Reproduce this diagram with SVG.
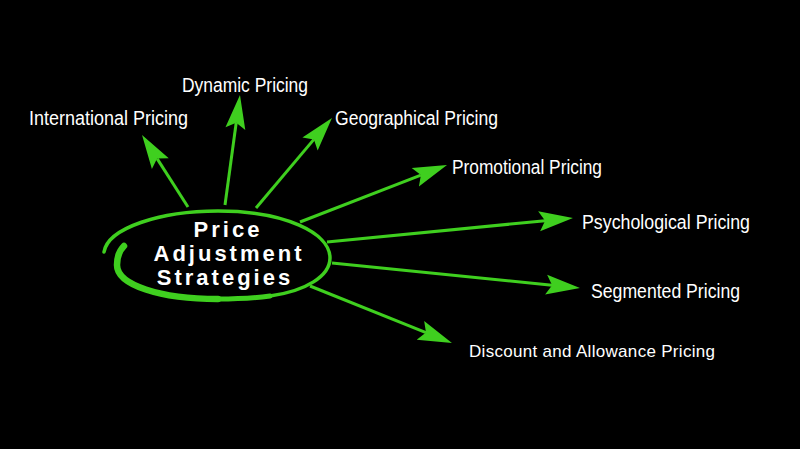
<svg xmlns="http://www.w3.org/2000/svg" width="800" height="449" viewBox="0 0 800 449">
<style>
.lbl{font-family:"Liberation Sans",Arial,sans-serif;font-size:20px;fill:#fff}
.ctr{font-family:"Liberation Sans",Arial,sans-serif;font-size:22px;font-weight:bold;fill:#fff;letter-spacing:3px;text-anchor:middle}
.arr{stroke:#3fcf1f;stroke-width:3;fill:none;marker-end:url(#ah)}
.sw{stroke:#3fcf1f;fill:none;stroke-linecap:round}
</style>
<defs>
<marker id="ah" markerUnits="userSpaceOnUse" viewBox="-8 -12 40 24" markerWidth="40" markerHeight="24" refX="0" refY="0" orient="auto">
<path d="M28,0 L-6,-10 L0,0 L-6,10 Z" fill="#3fcf1f"/>
</marker>
</defs>
<rect width="800" height="449" fill="#000"/>
<g id="connectors">
<line class="arr" x1="188" y1="207" x2="157.1" y2="158.6"/>
<line class="arr" x1="225" y1="205" x2="236.2" y2="122.7"/>
<line class="arr" x1="256" y1="208" x2="313.9" y2="139.4"/>
<line class="arr" x1="300" y1="222" x2="420.9" y2="175.1"/>
<line class="arr" x1="327" y1="242" x2="545.1" y2="220.7"/>
<line class="arr" x1="332" y1="263" x2="552.1" y2="285.2"/>
<line class="arr" x1="310" y1="286" x2="426" y2="332.6"/>
</g>
<g id="center">
<path class="sw" stroke-width="3.5" d="M104,252 C108,228 160,211 218,211 C285,211 330,233 330,258 C330,276 306,291 270,296"/>
<path class="sw" stroke-width="5" d="M270,296 C255,298 237,299 218,299"/>
<path class="sw" stroke-width="6.5" d="M218,299 C160,299 117,285 117,265 C117,256 120,250 124,246"/>
<text class="ctr" x="228" y="237">Price</text>
<text class="ctr" x="229" y="261">Adjustment</text>
<text class="ctr" x="225" y="285">Strategies</text>
</g>
<g id="international"><text class="lbl" x="29" y="125" textLength="159" lengthAdjust="spacingAndGlyphs">International Pricing</text></g>
<g id="dynamic"><text class="lbl" x="182" y="92" textLength="126" lengthAdjust="spacingAndGlyphs">Dynamic Pricing</text></g>
<g id="geographical"><text class="lbl" x="335" y="125" textLength="163" lengthAdjust="spacingAndGlyphs">Geographical Pricing</text></g>
<g id="promotional"><text class="lbl" x="452" y="174" textLength="150" lengthAdjust="spacingAndGlyphs">Promotional Pricing</text></g>
<g id="psychological"><text class="lbl" x="582" y="229" textLength="168" lengthAdjust="spacingAndGlyphs">Psychological Pricing</text></g>
<g id="segmented"><text class="lbl" x="591" y="298" textLength="149" lengthAdjust="spacingAndGlyphs">Segmented Pricing</text></g>
<g id="discount"><text class="lbl" x="469" y="357" style="font-size:17px" textLength="246" lengthAdjust="spacing">Discount and Allowance Pricing</text></g>
</svg>
